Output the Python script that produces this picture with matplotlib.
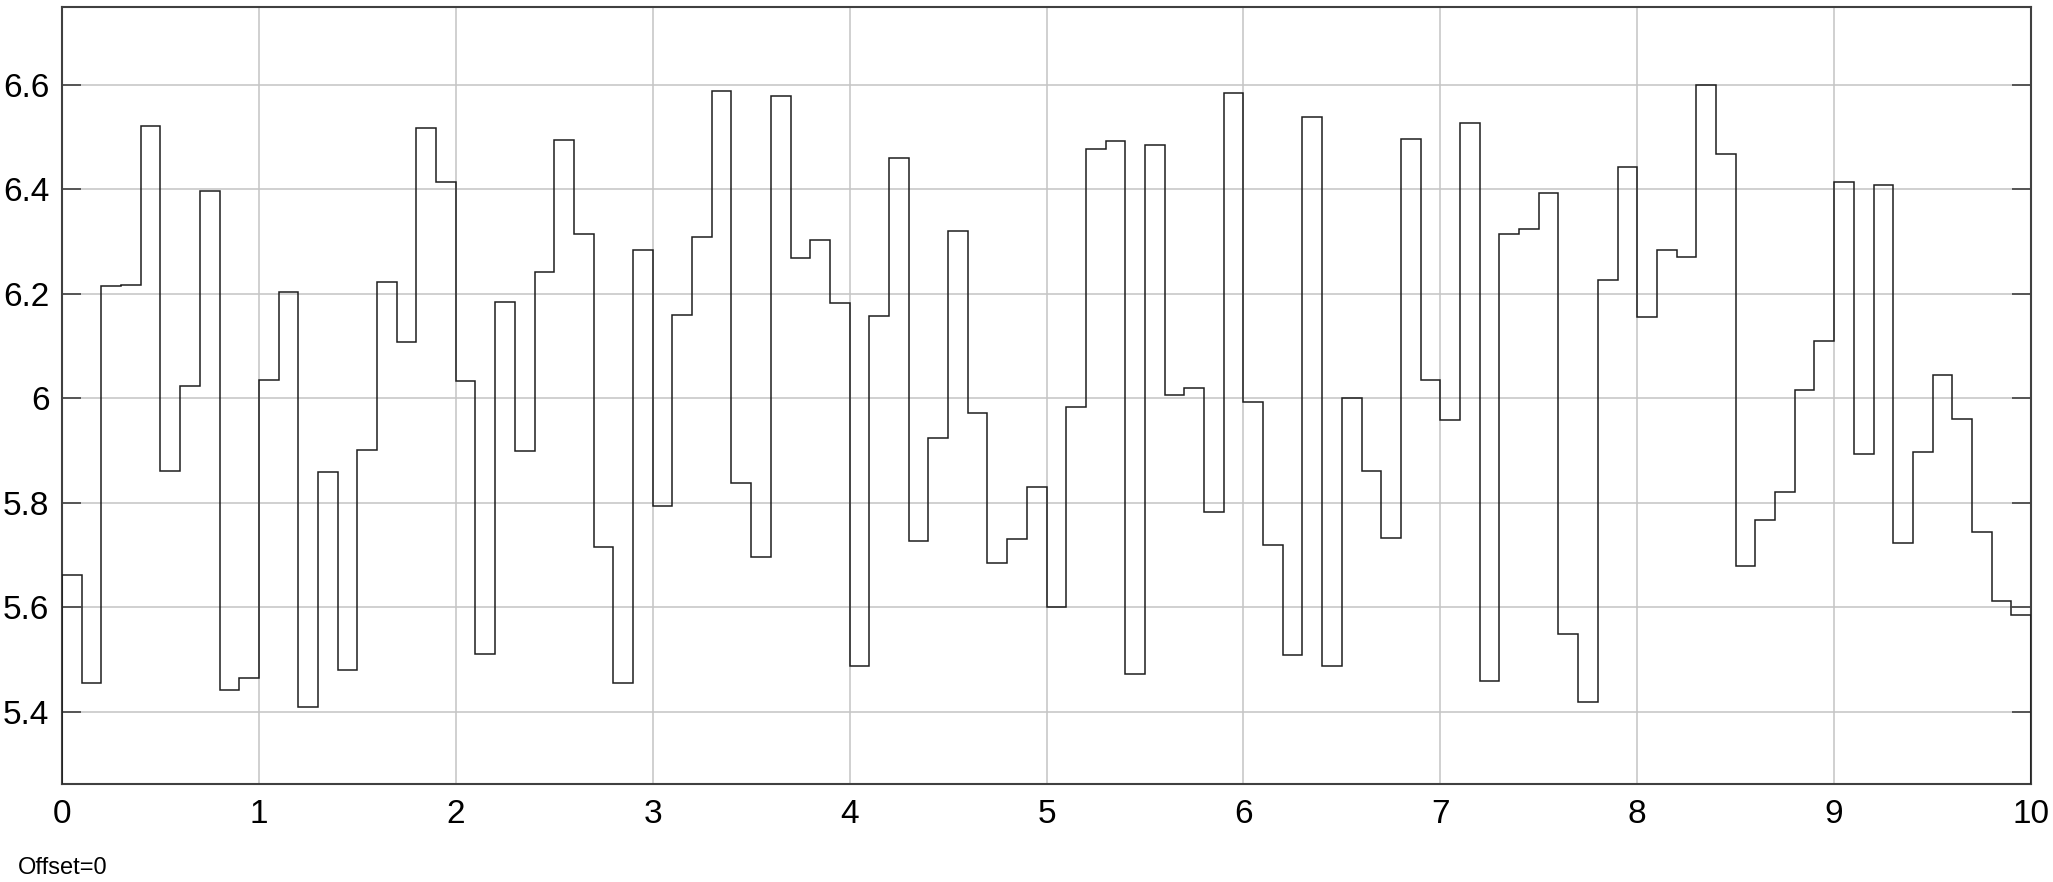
#!/usr/bin/env python3
"""Step trace of a sampled signal (scope style), 0..10 s, sample time 0.1 s."""
import numpy as np
import matplotlib

matplotlib.use("Agg")
import matplotlib.pyplot as plt
from matplotlib.ticker import FuncFormatter

# sample values, one per 0.1 s interval
samples = [
    5.662, 5.456, 6.215, 6.217, 6.522, 5.861, 6.023, 6.397, 5.442, 5.464,
    6.035, 6.204, 5.409, 5.860, 5.480, 5.901, 6.223, 6.107, 6.517, 6.415,
    6.033, 5.511, 6.184, 5.899, 6.241, 6.494, 6.315, 5.715, 5.456, 6.284,
    5.795, 6.159, 6.309, 6.589, 5.839, 5.697, 6.578, 6.268, 6.304, 6.182,
    5.488, 6.158, 6.461, 5.728, 5.924, 6.320, 5.973, 5.685, 5.730, 5.830,
    5.600, 5.984, 6.477, 6.492, 5.473, 6.485, 6.006, 6.019, 5.783, 6.584,
    5.993, 5.719, 5.508, 6.538, 5.488, 6.000, 5.861, 5.733, 6.496, 6.035,
    5.959, 6.528, 5.460, 6.314, 6.325, 6.393, 5.550, 5.419, 6.226, 6.442,
    6.156, 6.284, 6.270, 6.599, 6.467, 5.680, 5.768, 5.821, 6.016, 6.109,
    6.414, 5.894, 6.409, 5.724, 5.898, 6.044, 5.961, 5.745, 5.613, 5.586,
]
sample_time = 0.1
x_ticks = list(range(0, 11))
y_ticks = [5.4, 5.6, 5.8, 6.0, 6.2, 6.4, 6.6]

plt.rcParams["font.family"] = ["Liberation Sans", "DejaVu Sans"]

fig = plt.figure(figsize=(20.53, 8.82), dpi=100)
ax = fig.add_axes([0.0302, 0.1111, 0.9591, 0.8815])

edges = np.arange(len(samples) + 1) * sample_time
ax.stairs(samples, edges, color="#1e1e1e", lw=1.1, zorder=3)

ax.set_xlim(0, 10)
ax.set_ylim(5.262, 6.75)
ax.set_xticks(x_ticks)
ax.set_yticks(y_ticks)
ax.yaxis.set_major_formatter(FuncFormatter(lambda v, _: f"{v:g}"))

ax.grid(True, color="#c4c4c4", lw=1.1, zorder=0)
ax.tick_params(axis="y", direction="in", length=14, width=1.2, color="#404040",
               right=True, labelsize=24, pad=9)
ax.tick_params(axis="x", length=0, labelsize=24, pad=11)
for s in ax.spines.values():
    s.set_color("#404040")
    s.set_linewidth(1.5)

fig.text(18 / 2053, 1 - 868 / 882, "Offset=0", fontsize=17, va="center", ha="left")

fig.savefig("out.png", dpi=100)
print("wrote out.png")
